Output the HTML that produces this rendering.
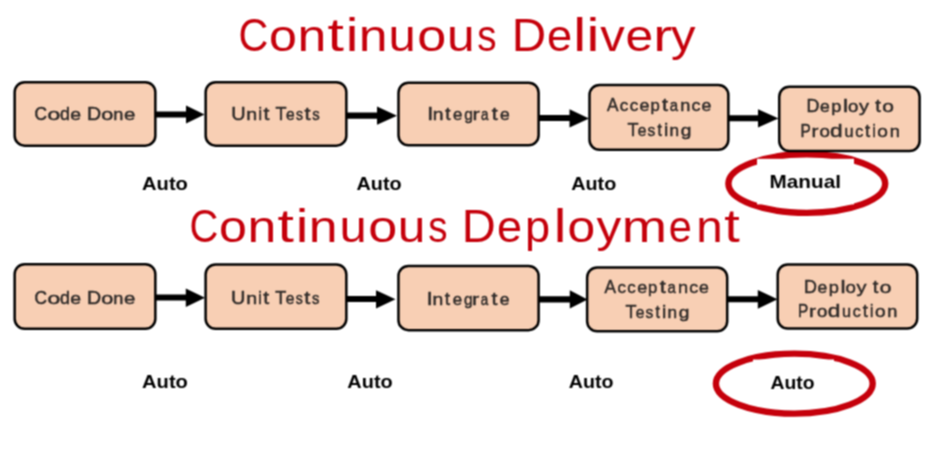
<!DOCTYPE html>
<html><head><meta charset="utf-8"><style>
html,body{margin:0;padding:0;background:#fff;width:940px;height:455px;overflow:hidden}
svg{display:block;font-family:"Liberation Sans",sans-serif}
</style></head><body>
<svg width="940" height="455" viewBox="0 0 940 455">
<defs><filter id="bl" color-interpolation-filters="sRGB" filterUnits="userSpaceOnUse" x="-10" y="-10" width="960" height="475"><feConvolveMatrix order="3" kernelMatrix="0.0625 0.125 0.0625 0.125 0.25 0.125 0.0625 0.125 0.0625" edgeMode="duplicate" preserveAlpha="false"/></filter></defs>
<rect width="940" height="455" fill="#fff"/>
<g filter="url(#bl)">
<ellipse cx="806.8" cy="183.6" rx="78.4" ry="29.3" fill="none" stroke="#C5000B" stroke-width="6.4"/>
<rect x="757" y="158.8" width="97" height="45.599999999999994" fill="#fff"/>
<ellipse cx="794.3" cy="383.6" rx="78.4" ry="30.0" fill="none" stroke="#C5000B" stroke-width="6.4"/>
<rect x="753" y="359.5" width="81" height="45.5" fill="#fff"/>
<rect x="14.65" y="82.25" width="140.70" height="63.40" rx="10" ry="10" fill="#F8CFB4" stroke="#000" stroke-width="2.5"/>
<rect x="205.65" y="82.25" width="140.70" height="63.40" rx="10" ry="10" fill="#F8CFB4" stroke="#000" stroke-width="2.5"/>
<rect x="398.50" y="82.75" width="140.10" height="62.55" rx="10" ry="10" fill="#F8CFB4" stroke="#000" stroke-width="2.5"/>
<rect x="589.50" y="85.00" width="138.85" height="64.85" rx="10" ry="10" fill="#F8CFB4" stroke="#000" stroke-width="2.5"/>
<rect x="779.25" y="86.70" width="140.35" height="64.25" rx="10" ry="10" fill="#F8CFB4" stroke="#000" stroke-width="2.5"/>
<rect x="14.65" y="264.25" width="140.70" height="64.60" rx="10" ry="10" fill="#F8CFB4" stroke="#000" stroke-width="2.5"/>
<rect x="205.60" y="264.50" width="140.75" height="64.35" rx="10" ry="10" fill="#F8CFB4" stroke="#000" stroke-width="2.5"/>
<rect x="398.45" y="265.95" width="140.15" height="64.20" rx="10" ry="10" fill="#F8CFB4" stroke="#000" stroke-width="2.5"/>
<rect x="587.15" y="267.50" width="140.05" height="63.80" rx="10" ry="10" fill="#F8CFB4" stroke="#000" stroke-width="2.5"/>
<rect x="777.70" y="264.50" width="139.50" height="64.05" rx="10" ry="10" fill="#F8CFB4" stroke="#000" stroke-width="2.5"/>
<path d="M155.00,111.50 L186.00,111.50 L186.00,105.60 L204.50,114.50 L186.00,123.40 L186.00,117.60 L155.00,117.60 Z" fill="#000"/>
<path d="M346.00,112.50 L377.00,112.50 L377.00,106.60 L397.00,115.65 L377.00,124.70 L377.00,118.80 L346.00,118.80 Z" fill="#000"/>
<path d="M538.00,114.90 L569.50,114.90 L569.50,109.30 L589.00,118.45 L569.50,127.60 L569.50,120.90 L538.00,120.90 Z" fill="#000"/>
<path d="M728.00,115.30 L758.00,115.30 L758.00,109.30 L778.50,118.45 L758.00,127.60 L758.00,121.30 L728.00,121.30 Z" fill="#000"/>
<path d="M155.00,294.50 L185.80,294.50 L185.80,288.60 L205.00,297.80 L185.80,307.00 L185.80,300.60 L155.00,300.60 Z" fill="#000"/>
<path d="M346.00,295.90 L376.00,295.90 L376.00,290.30 L395.50,299.35 L376.00,308.40 L376.00,302.10 L346.00,302.10 Z" fill="#000"/>
<path d="M538.00,296.20 L569.80,296.20 L569.80,290.30 L587.50,299.45 L569.80,308.60 L569.80,302.50 L538.00,302.50 Z" fill="#000"/>
<path d="M727.00,296.20 L757.80,296.20 L757.80,290.00 L777.50,299.35 L757.80,308.70 L757.80,302.30 L727.00,302.30 Z" fill="#000"/>
<text transform="translate(34.57,120.10) scale(0.9758,1.0000)" font-size="17.80" fill="#2F2B29" stroke="#2F2B29" stroke-width="0.5">C</text>
<text transform="translate(47.49,120.10) scale(1.2850,0.9350)" font-size="17.80" fill="#2F2B29" stroke="#2F2B29" stroke-width="0.5">o</text>
<text transform="translate(59.90,120.10) scale(0.9994,1.0400)" font-size="17.80" fill="#2F2B29" stroke="#2F2B29" stroke-width="0.5">d</text>
<text transform="translate(70.33,120.10) scale(1.0895,0.9350)" font-size="17.80" fill="#2F2B29" stroke="#2F2B29" stroke-width="0.5">e</text>
<text transform="translate(86.94,120.10) scale(1.1003,1.0000)" font-size="17.80" fill="#2F2B29" stroke="#2F2B29" stroke-width="0.5">D</text>
<text transform="translate(101.24,120.10) scale(1.2136,0.9350)" font-size="17.80" fill="#2F2B29" stroke="#2F2B29" stroke-width="0.5">o</text>
<text transform="translate(113.35,120.10) scale(1.0183,0.9350)" font-size="17.80" fill="#2F2B29" stroke="#2F2B29" stroke-width="0.5">n</text>
<text transform="translate(123.98,120.10) scale(1.1494,0.9350)" font-size="17.80" fill="#2F2B29" stroke="#2F2B29" stroke-width="0.5">e</text>
<text transform="translate(231.31,120.10) scale(1.1179,1.0000)" font-size="17.80" fill="#2F2B29" stroke="#2F2B29" stroke-width="0.5">U</text>
<text transform="translate(246.35,120.10) scale(1.0977,0.9350)" font-size="17.80" fill="#2F2B29" stroke="#2F2B29" stroke-width="0.5">n</text>
<text transform="translate(258.48,120.10) scale(0.8949,1.0000)" font-size="17.80" fill="#2F2B29" stroke="#2F2B29" stroke-width="0.5">i</text>
<text transform="translate(263.43,120.10) scale(1.1880,1.0000)" font-size="17.80" fill="#2F2B29" stroke="#2F2B29" stroke-width="0.5">t</text>
<text transform="translate(275.54,120.10) scale(1.0134,1.0000)" font-size="17.80" fill="#2F2B29" stroke="#2F2B29" stroke-width="0.5">T</text>
<text transform="translate(285.89,120.10) scale(0.8740,0.9350)" font-size="17.80" fill="#2F2B29" stroke="#2F2B29" stroke-width="0.5">e</text>
<text transform="translate(295.96,120.10) scale(0.7859,0.9350)" font-size="17.80" fill="#2F2B29" stroke="#2F2B29" stroke-width="0.5">s</text>
<text transform="translate(304.52,120.10) scale(1.2100,1.0000)" font-size="17.80" fill="#2F2B29" stroke="#2F2B29" stroke-width="0.5">t</text>
<text transform="translate(312.24,120.10) scale(0.8375,0.9350)" font-size="17.80" fill="#2F2B29" stroke="#2F2B29" stroke-width="0.5">s</text>
<text transform="translate(427.17,120.20) scale(1.2048,1.0000)" font-size="17.80" fill="#2F2B29" stroke="#2F2B29" stroke-width="0.5">I</text>
<text transform="translate(432.77,120.20) scale(1.0844,0.9350)" font-size="17.80" fill="#2F2B29" stroke="#2F2B29" stroke-width="0.5">n</text>
<text transform="translate(445.17,120.20) scale(1.0560,1.0000)" font-size="17.80" fill="#2F2B29" stroke="#2F2B29" stroke-width="0.5">t</text>
<text transform="translate(453.03,120.20) scale(0.9458,0.9350)" font-size="17.80" fill="#2F2B29" stroke="#2F2B29" stroke-width="0.5">e</text>
<text transform="translate(464.20,120.20) scale(0.8745,0.9350)" font-size="17.80" fill="#2F2B29" stroke="#2F2B29" stroke-width="0.5">g</text>
<text transform="translate(472.42,120.20) scale(1.2135,0.9350)" font-size="17.80" fill="#2F2B29" stroke="#2F2B29" stroke-width="0.5">r</text>
<text transform="translate(480.98,120.20) scale(0.7546,0.9350)" font-size="17.80" fill="#2F2B29" stroke="#2F2B29" stroke-width="0.5">a</text>
<text transform="translate(491.83,120.20) scale(1.1880,1.0000)" font-size="17.80" fill="#2F2B29" stroke="#2F2B29" stroke-width="0.5">t</text>
<text transform="translate(500.01,120.20) scale(0.9817,0.9350)" font-size="17.80" fill="#2F2B29" stroke="#2F2B29" stroke-width="0.5">e</text>
<text transform="translate(606.92,110.90) scale(0.9659,1.0000)" font-size="17.80" fill="#2F2B29" stroke="#2F2B29" stroke-width="0.5">A</text>
<text transform="translate(619.73,110.90) scale(0.9512,0.9350)" font-size="17.80" fill="#2F2B29" stroke="#2F2B29" stroke-width="0.5">c</text>
<text transform="translate(629.63,110.90) scale(0.9512,0.9350)" font-size="17.80" fill="#2F2B29" stroke="#2F2B29" stroke-width="0.5">c</text>
<text transform="translate(639.59,110.90) scale(1.0057,0.9350)" font-size="17.80" fill="#2F2B29" stroke="#2F2B29" stroke-width="0.5">e</text>
<text transform="translate(650.38,110.90) scale(0.9369,0.9350)" font-size="17.80" fill="#2F2B29" stroke="#2F2B29" stroke-width="0.5">p</text>
<text transform="translate(662.02,110.90) scale(1.2100,1.0000)" font-size="17.80" fill="#2F2B29" stroke="#2F2B29" stroke-width="0.5">t</text>
<text transform="translate(669.71,110.90) scale(0.8421,0.9350)" font-size="17.80" fill="#2F2B29" stroke="#2F2B29" stroke-width="0.5">a</text>
<text transform="translate(680.25,110.90) scale(1.0183,0.9350)" font-size="17.80" fill="#2F2B29" stroke="#2F2B29" stroke-width="0.5">n</text>
<text transform="translate(691.49,110.90) scale(1.0033,0.9350)" font-size="17.80" fill="#2F2B29" stroke="#2F2B29" stroke-width="0.5">c</text>
<text transform="translate(701.40,110.90) scale(0.9937,0.9350)" font-size="17.80" fill="#2F2B29" stroke="#2F2B29" stroke-width="0.5">e</text>
<text transform="translate(627.44,135.90) scale(1.0134,1.0000)" font-size="17.80" fill="#2F2B29" stroke="#2F2B29" stroke-width="0.5">T</text>
<text transform="translate(637.79,135.90) scale(0.8740,0.9350)" font-size="17.80" fill="#2F2B29" stroke="#2F2B29" stroke-width="0.5">e</text>
<text transform="translate(647.52,135.90) scale(0.8761,0.9350)" font-size="17.80" fill="#2F2B29" stroke="#2F2B29" stroke-width="0.5">s</text>
<text transform="translate(657.51,135.90) scale(0.8800,1.0000)" font-size="17.80" fill="#2F2B29" stroke="#2F2B29" stroke-width="0.5">t</text>
<text transform="translate(664.06,135.90) scale(1.0866,1.0000)" font-size="17.80" fill="#2F2B29" stroke="#2F2B29" stroke-width="0.5">i</text>
<text transform="translate(669.41,135.90) scale(0.9654,0.9350)" font-size="17.80" fill="#2F2B29" stroke="#2F2B29" stroke-width="0.5">n</text>
<text transform="translate(680.85,135.90) scale(1.0744,0.9350)" font-size="17.80" fill="#2F2B29" stroke="#2F2B29" stroke-width="0.5">g</text>
<text transform="translate(806.38,112.20) scale(1.0054,1.0000)" font-size="17.80" fill="#2F2B29" stroke="#2F2B29" stroke-width="0.5">D</text>
<text transform="translate(820.01,112.20) scale(0.9817,0.9350)" font-size="17.80" fill="#2F2B29" stroke="#2F2B29" stroke-width="0.5">e</text>
<text transform="translate(831.27,112.20) scale(1.0244,0.9350)" font-size="17.80" fill="#2F2B29" stroke="#2F2B29" stroke-width="0.5">p</text>
<text transform="translate(842.92,112.20) scale(1.2784,1.0400)" font-size="17.80" fill="#2F2B29" stroke="#2F2B29" stroke-width="0.5">l</text>
<text transform="translate(847.97,112.20) scale(1.0470,0.9350)" font-size="17.80" fill="#2F2B29" stroke="#2F2B29" stroke-width="0.5">o</text>
<text transform="translate(859.00,112.20) scale(1.1222,0.9350)" font-size="17.80" fill="#2F2B29" stroke="#2F2B29" stroke-width="0.5">y</text>
<text transform="translate(875.25,112.20) scale(1.1220,1.0000)" font-size="17.80" fill="#2F2B29" stroke="#2F2B29" stroke-width="0.5">t</text>
<text transform="translate(882.17,112.20) scale(1.1779,0.9350)" font-size="17.80" fill="#2F2B29" stroke="#2F2B29" stroke-width="0.5">o</text>
<text transform="translate(800.49,137.10) scale(0.8656,1.0000)" font-size="17.80" fill="#2F2B29" stroke="#2F2B29" stroke-width="0.5">P</text>
<text transform="translate(811.47,137.10) scale(1.1685,0.9350)" font-size="17.80" fill="#2F2B29" stroke="#2F2B29" stroke-width="0.5">r</text>
<text transform="translate(819.47,137.10) scale(1.0470,0.9350)" font-size="17.80" fill="#2F2B29" stroke="#2F2B29" stroke-width="0.5">o</text>
<text transform="translate(830.10,137.10) scale(1.2742,1.0400)" font-size="17.80" fill="#2F2B29" stroke="#2F2B29" stroke-width="0.5">d</text>
<text transform="translate(844.40,137.10) scale(0.9125,0.9350)" font-size="17.80" fill="#2F2B29" stroke="#2F2B29" stroke-width="0.5">u</text>
<text transform="translate(855.27,137.10) scale(0.8991,0.9350)" font-size="17.80" fill="#2F2B29" stroke="#2F2B29" stroke-width="0.5">c</text>
<text transform="translate(865.07,137.10) scale(1.0340,1.0000)" font-size="17.80" fill="#2F2B29" stroke="#2F2B29" stroke-width="0.5">t</text>
<text transform="translate(872.46,137.10) scale(0.8310,1.0000)" font-size="17.80" fill="#2F2B29" stroke="#2F2B29" stroke-width="0.5">i</text>
<text transform="translate(877.35,137.10) scale(1.0708,0.9350)" font-size="17.80" fill="#2F2B29" stroke="#2F2B29" stroke-width="0.5">o</text>
<text transform="translate(889.65,137.10) scale(1.0183,0.9350)" font-size="17.80" fill="#2F2B29" stroke="#2F2B29" stroke-width="0.5">n</text>
<text transform="translate(34.57,303.70) scale(0.9758,1.0000)" font-size="17.80" fill="#2F2B29" stroke="#2F2B29" stroke-width="0.5">C</text>
<text transform="translate(47.49,303.70) scale(1.2850,0.9350)" font-size="17.80" fill="#2F2B29" stroke="#2F2B29" stroke-width="0.5">o</text>
<text transform="translate(59.90,303.70) scale(0.9994,1.0400)" font-size="17.80" fill="#2F2B29" stroke="#2F2B29" stroke-width="0.5">d</text>
<text transform="translate(70.33,303.70) scale(1.0895,0.9350)" font-size="17.80" fill="#2F2B29" stroke="#2F2B29" stroke-width="0.5">e</text>
<text transform="translate(86.94,303.70) scale(1.1003,1.0000)" font-size="17.80" fill="#2F2B29" stroke="#2F2B29" stroke-width="0.5">D</text>
<text transform="translate(101.24,303.70) scale(1.2136,0.9350)" font-size="17.80" fill="#2F2B29" stroke="#2F2B29" stroke-width="0.5">o</text>
<text transform="translate(113.35,303.70) scale(1.0183,0.9350)" font-size="17.80" fill="#2F2B29" stroke="#2F2B29" stroke-width="0.5">n</text>
<text transform="translate(123.98,303.70) scale(1.1494,0.9350)" font-size="17.80" fill="#2F2B29" stroke="#2F2B29" stroke-width="0.5">e</text>
<text transform="translate(231.11,303.70) scale(1.1179,1.0000)" font-size="17.80" fill="#2F2B29" stroke="#2F2B29" stroke-width="0.5">U</text>
<text transform="translate(246.15,303.70) scale(1.0977,0.9350)" font-size="17.80" fill="#2F2B29" stroke="#2F2B29" stroke-width="0.5">n</text>
<text transform="translate(258.28,303.70) scale(0.8949,1.0000)" font-size="17.80" fill="#2F2B29" stroke="#2F2B29" stroke-width="0.5">i</text>
<text transform="translate(263.23,303.70) scale(1.1880,1.0000)" font-size="17.80" fill="#2F2B29" stroke="#2F2B29" stroke-width="0.5">t</text>
<text transform="translate(275.34,303.70) scale(1.0134,1.0000)" font-size="17.80" fill="#2F2B29" stroke="#2F2B29" stroke-width="0.5">T</text>
<text transform="translate(285.69,303.70) scale(0.8740,0.9350)" font-size="17.80" fill="#2F2B29" stroke="#2F2B29" stroke-width="0.5">e</text>
<text transform="translate(295.76,303.70) scale(0.7859,0.9350)" font-size="17.80" fill="#2F2B29" stroke="#2F2B29" stroke-width="0.5">s</text>
<text transform="translate(304.32,303.70) scale(1.2100,1.0000)" font-size="17.80" fill="#2F2B29" stroke="#2F2B29" stroke-width="0.5">t</text>
<text transform="translate(312.04,303.70) scale(0.8375,0.9350)" font-size="17.80" fill="#2F2B29" stroke="#2F2B29" stroke-width="0.5">s</text>
<text transform="translate(426.87,305.00) scale(1.2048,1.0000)" font-size="17.80" fill="#2F2B29" stroke="#2F2B29" stroke-width="0.5">I</text>
<text transform="translate(432.47,305.00) scale(1.0844,0.9350)" font-size="17.80" fill="#2F2B29" stroke="#2F2B29" stroke-width="0.5">n</text>
<text transform="translate(444.87,305.00) scale(1.0560,1.0000)" font-size="17.80" fill="#2F2B29" stroke="#2F2B29" stroke-width="0.5">t</text>
<text transform="translate(452.73,305.00) scale(0.9458,0.9350)" font-size="17.80" fill="#2F2B29" stroke="#2F2B29" stroke-width="0.5">e</text>
<text transform="translate(463.90,305.00) scale(0.8745,0.9350)" font-size="17.80" fill="#2F2B29" stroke="#2F2B29" stroke-width="0.5">g</text>
<text transform="translate(472.12,305.00) scale(1.2135,0.9350)" font-size="17.80" fill="#2F2B29" stroke="#2F2B29" stroke-width="0.5">r</text>
<text transform="translate(480.68,305.00) scale(0.7546,0.9350)" font-size="17.80" fill="#2F2B29" stroke="#2F2B29" stroke-width="0.5">a</text>
<text transform="translate(491.53,305.00) scale(1.1880,1.0000)" font-size="17.80" fill="#2F2B29" stroke="#2F2B29" stroke-width="0.5">t</text>
<text transform="translate(499.71,305.00) scale(0.9817,0.9350)" font-size="17.80" fill="#2F2B29" stroke="#2F2B29" stroke-width="0.5">e</text>
<text transform="translate(604.62,292.90) scale(0.9659,1.0000)" font-size="17.80" fill="#2F2B29" stroke="#2F2B29" stroke-width="0.5">A</text>
<text transform="translate(617.43,292.90) scale(0.9512,0.9350)" font-size="17.80" fill="#2F2B29" stroke="#2F2B29" stroke-width="0.5">c</text>
<text transform="translate(627.33,292.90) scale(0.9512,0.9350)" font-size="17.80" fill="#2F2B29" stroke="#2F2B29" stroke-width="0.5">c</text>
<text transform="translate(637.29,292.90) scale(1.0057,0.9350)" font-size="17.80" fill="#2F2B29" stroke="#2F2B29" stroke-width="0.5">e</text>
<text transform="translate(648.08,292.90) scale(0.9369,0.9350)" font-size="17.80" fill="#2F2B29" stroke="#2F2B29" stroke-width="0.5">p</text>
<text transform="translate(659.72,292.90) scale(1.2100,1.0000)" font-size="17.80" fill="#2F2B29" stroke="#2F2B29" stroke-width="0.5">t</text>
<text transform="translate(667.41,292.90) scale(0.8421,0.9350)" font-size="17.80" fill="#2F2B29" stroke="#2F2B29" stroke-width="0.5">a</text>
<text transform="translate(677.95,292.90) scale(1.0183,0.9350)" font-size="17.80" fill="#2F2B29" stroke="#2F2B29" stroke-width="0.5">n</text>
<text transform="translate(689.19,292.90) scale(1.0033,0.9350)" font-size="17.80" fill="#2F2B29" stroke="#2F2B29" stroke-width="0.5">c</text>
<text transform="translate(699.10,292.90) scale(0.9937,0.9350)" font-size="17.80" fill="#2F2B29" stroke="#2F2B29" stroke-width="0.5">e</text>
<text transform="translate(625.44,318.10) scale(1.0134,1.0000)" font-size="17.80" fill="#2F2B29" stroke="#2F2B29" stroke-width="0.5">T</text>
<text transform="translate(635.79,318.10) scale(0.8740,0.9350)" font-size="17.80" fill="#2F2B29" stroke="#2F2B29" stroke-width="0.5">e</text>
<text transform="translate(645.52,318.10) scale(0.8761,0.9350)" font-size="17.80" fill="#2F2B29" stroke="#2F2B29" stroke-width="0.5">s</text>
<text transform="translate(655.51,318.10) scale(0.8800,1.0000)" font-size="17.80" fill="#2F2B29" stroke="#2F2B29" stroke-width="0.5">t</text>
<text transform="translate(662.06,318.10) scale(1.0866,1.0000)" font-size="17.80" fill="#2F2B29" stroke="#2F2B29" stroke-width="0.5">i</text>
<text transform="translate(667.41,318.10) scale(0.9654,0.9350)" font-size="17.80" fill="#2F2B29" stroke="#2F2B29" stroke-width="0.5">n</text>
<text transform="translate(678.85,318.10) scale(1.0744,0.9350)" font-size="17.80" fill="#2F2B29" stroke="#2F2B29" stroke-width="0.5">g</text>
<text transform="translate(803.98,292.50) scale(1.0054,1.0000)" font-size="17.80" fill="#2F2B29" stroke="#2F2B29" stroke-width="0.5">D</text>
<text transform="translate(817.61,292.50) scale(0.9817,0.9350)" font-size="17.80" fill="#2F2B29" stroke="#2F2B29" stroke-width="0.5">e</text>
<text transform="translate(828.87,292.50) scale(1.0244,0.9350)" font-size="17.80" fill="#2F2B29" stroke="#2F2B29" stroke-width="0.5">p</text>
<text transform="translate(840.52,292.50) scale(1.2784,1.0400)" font-size="17.80" fill="#2F2B29" stroke="#2F2B29" stroke-width="0.5">l</text>
<text transform="translate(845.57,292.50) scale(1.0470,0.9350)" font-size="17.80" fill="#2F2B29" stroke="#2F2B29" stroke-width="0.5">o</text>
<text transform="translate(856.60,292.50) scale(1.1222,0.9350)" font-size="17.80" fill="#2F2B29" stroke="#2F2B29" stroke-width="0.5">y</text>
<text transform="translate(872.85,292.50) scale(1.1220,1.0000)" font-size="17.80" fill="#2F2B29" stroke="#2F2B29" stroke-width="0.5">t</text>
<text transform="translate(879.77,292.50) scale(1.1779,0.9350)" font-size="17.80" fill="#2F2B29" stroke="#2F2B29" stroke-width="0.5">o</text>
<text transform="translate(798.09,316.80) scale(0.8656,1.0000)" font-size="17.80" fill="#2F2B29" stroke="#2F2B29" stroke-width="0.5">P</text>
<text transform="translate(809.07,316.80) scale(1.1685,0.9350)" font-size="17.80" fill="#2F2B29" stroke="#2F2B29" stroke-width="0.5">r</text>
<text transform="translate(817.07,316.80) scale(1.0470,0.9350)" font-size="17.80" fill="#2F2B29" stroke="#2F2B29" stroke-width="0.5">o</text>
<text transform="translate(827.70,316.80) scale(1.2742,1.0400)" font-size="17.80" fill="#2F2B29" stroke="#2F2B29" stroke-width="0.5">d</text>
<text transform="translate(842.00,316.80) scale(0.9125,0.9350)" font-size="17.80" fill="#2F2B29" stroke="#2F2B29" stroke-width="0.5">u</text>
<text transform="translate(852.87,316.80) scale(0.8991,0.9350)" font-size="17.80" fill="#2F2B29" stroke="#2F2B29" stroke-width="0.5">c</text>
<text transform="translate(862.67,316.80) scale(1.0340,1.0000)" font-size="17.80" fill="#2F2B29" stroke="#2F2B29" stroke-width="0.5">t</text>
<text transform="translate(870.06,316.80) scale(0.8310,1.0000)" font-size="17.80" fill="#2F2B29" stroke="#2F2B29" stroke-width="0.5">i</text>
<text transform="translate(874.95,316.80) scale(1.0708,0.9350)" font-size="17.80" fill="#2F2B29" stroke="#2F2B29" stroke-width="0.5">o</text>
<text transform="translate(887.25,316.80) scale(1.0183,0.9350)" font-size="17.80" fill="#2F2B29" stroke="#2F2B29" stroke-width="0.5">n</text>
<text x="142.09" y="190.00" font-size="17.88" font-weight="bold" fill="#000" textLength="45.82" lengthAdjust="spacingAndGlyphs">Auto</text>
<text x="356.49" y="190.00" font-size="17.88" font-weight="bold" fill="#000" textLength="45.11" lengthAdjust="spacingAndGlyphs">Auto</text>
<text x="571.19" y="190.00" font-size="18.46" font-weight="bold" fill="#000" textLength="45.02" lengthAdjust="spacingAndGlyphs">Auto</text>
<text x="769.58" y="187.90" font-size="18.02" font-weight="bold" fill="#000" textLength="71.35" lengthAdjust="spacingAndGlyphs">Manual</text>
<text x="142.09" y="388.30" font-size="18.17" font-weight="bold" fill="#000" textLength="45.82" lengthAdjust="spacingAndGlyphs">Auto</text>
<text x="347.39" y="388.40" font-size="18.31" font-weight="bold" fill="#000" textLength="45.33" lengthAdjust="spacingAndGlyphs">Auto</text>
<text x="568.79" y="388.40" font-size="18.31" font-weight="bold" fill="#000" textLength="44.72" lengthAdjust="spacingAndGlyphs">Auto</text>
<text x="770.58" y="388.90" font-size="18.17" font-weight="bold" fill="#000" textLength="44.02" lengthAdjust="spacingAndGlyphs">Auto</text>
<text transform="translate(238.50,50.50) scale(0.8859,1.0000)" font-size="46.70" fill="#C5000B">C</text>
<text transform="translate(269.09,50.50) scale(1.0748,0.9600)" font-size="46.70" fill="#C5000B">o</text>
<text transform="translate(297.56,50.50) scale(1.1090,0.9600)" font-size="46.70" fill="#C5000B">n</text>
<text transform="translate(327.40,50.50) scale(1.2662,1.0000)" font-size="46.70" fill="#C5000B">t</text>
<text transform="translate(345.69,50.50) scale(1.2182,1.0000)" font-size="46.70" fill="#C5000B">i</text>
<text transform="translate(358.86,50.50) scale(1.1090,0.9600)" font-size="46.70" fill="#C5000B">n</text>
<text transform="translate(388.62,50.50) scale(1.0485,0.9600)" font-size="46.70" fill="#C5000B">u</text>
<text transform="translate(417.31,50.50) scale(1.1156,0.9600)" font-size="46.70" fill="#C5000B">o</text>
<text transform="translate(446.97,50.50) scale(1.0636,0.9600)" font-size="46.70" fill="#C5000B">u</text>
<text transform="translate(477.23,50.50) scale(0.8250,0.9600)" font-size="46.70" fill="#C5000B">s</text>
<text transform="translate(511.79,50.50) scale(1.0195,1.0000)" font-size="46.70" fill="#C5000B">D</text>
<text transform="translate(546.98,50.50) scale(0.9674,0.9600)" font-size="46.70" fill="#C5000B">e</text>
<text transform="translate(573.29,50.50) scale(1.2425,1.0000)" font-size="46.70" fill="#C5000B">l</text>
<text transform="translate(586.42,50.50) scale(1.2425,1.0000)" font-size="46.70" fill="#C5000B">i</text>
<text transform="translate(600.33,50.50) scale(1.0508,0.9600)" font-size="46.70" fill="#C5000B">v</text>
<text transform="translate(625.59,50.50) scale(1.0633,0.9600)" font-size="46.70" fill="#C5000B">e</text>
<text transform="translate(653.23,50.50) scale(1.2163,0.9600)" font-size="46.70" fill="#C5000B">r</text>
<text transform="translate(671.08,50.50) scale(1.0499,0.9600)" font-size="46.70" fill="#C5000B">y</text>
<text transform="translate(189.47,241.50) scale(0.8704,1.0000)" font-size="45.90" fill="#C5000B">C</text>
<text transform="translate(219.09,241.50) scale(1.0936,0.9600)" font-size="45.90" fill="#C5000B">o</text>
<text transform="translate(247.56,241.50) scale(1.1283,0.9600)" font-size="45.90" fill="#C5000B">n</text>
<text transform="translate(277.40,241.50) scale(1.2882,1.0000)" font-size="45.90" fill="#C5000B">t</text>
<text transform="translate(295.69,241.50) scale(1.2394,1.0000)" font-size="45.90" fill="#C5000B">i</text>
<text transform="translate(308.86,241.50) scale(1.1283,0.9600)" font-size="45.90" fill="#C5000B">n</text>
<text transform="translate(339.52,241.50) scale(1.0667,0.9600)" font-size="45.90" fill="#C5000B">u</text>
<text transform="translate(368.21,241.50) scale(1.1351,0.9600)" font-size="45.90" fill="#C5000B">o</text>
<text transform="translate(397.87,241.50) scale(1.0821,0.9600)" font-size="45.90" fill="#C5000B">u</text>
<text transform="translate(428.13,241.50) scale(0.8394,0.9600)" font-size="45.90" fill="#C5000B">s</text>
<text transform="translate(461.84,241.50) scale(1.0263,1.0000)" font-size="45.90" fill="#C5000B">D</text>
<text transform="translate(496.99,241.50) scale(0.9797,0.9600)" font-size="45.90" fill="#C5000B">e</text>
<text transform="translate(524.89,241.50) scale(0.9835,0.9600)" font-size="45.90" fill="#C5000B">p</text>
<text transform="translate(553.77,241.50) scale(1.2394,1.0000)" font-size="45.90" fill="#C5000B">l</text>
<text transform="translate(567.41,241.50) scale(1.0843,0.9600)" font-size="45.90" fill="#C5000B">o</text>
<text transform="translate(596.38,241.50) scale(1.0770,0.9600)" font-size="45.90" fill="#C5000B">y</text>
<text transform="translate(621.79,241.50) scale(1.1847,0.9600)" font-size="45.90" fill="#C5000B">m</text>
<text transform="translate(668.74,241.50) scale(0.9007,0.9600)" font-size="45.90" fill="#C5000B">e</text>
<text transform="translate(696.34,241.50) scale(1.0360,0.9600)" font-size="45.90" fill="#C5000B">n</text>
<text transform="translate(724.15,241.50) scale(1.2200,1.0000)" font-size="45.90" fill="#C5000B">t</text>
</g>
</svg>
</body></html>
